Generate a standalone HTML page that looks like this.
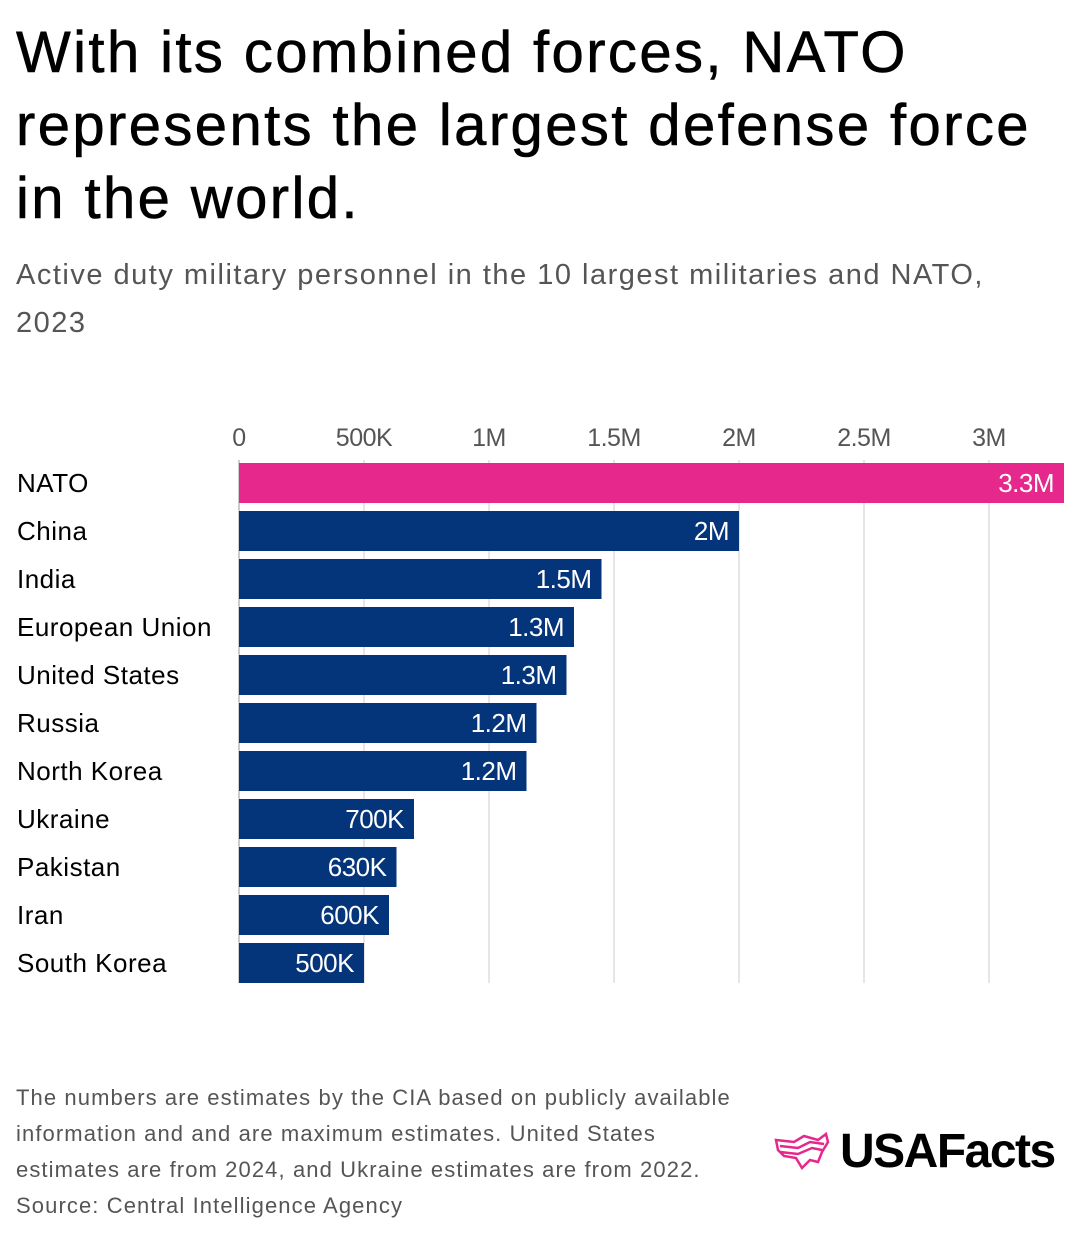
<!DOCTYPE html>
<html><head><meta charset="utf-8"><style>
body{margin:0;width:1080px;height:1238px;background:#fff;font-family:"Liberation Sans",sans-serif;position:relative;overflow:hidden}
.t{position:absolute;left:16px;top:16px;font-size:58px;font-weight:normal;line-height:73px;color:#000;margin:0;letter-spacing:2.4px;white-space:nowrap;-webkit-text-stroke:0.6px #000}
.s{position:absolute;left:16px;top:251px;font-size:29px;line-height:48px;color:#555;white-space:nowrap;letter-spacing:1.5px}
.n{position:absolute;left:16px;top:1080px;font-size:22px;line-height:36px;color:#555;white-space:nowrap;letter-spacing:1.1px}
.logo{position:absolute;left:774px;top:1124px;display:flex;align-items:center}
.logo span{font-size:48px;font-weight:bold;color:#000;margin-left:10px;letter-spacing:-1.5px}
</style></head><body>
<h1 class="t">With its combined forces, NATO<br>represents the largest defense force<br>in the world.</h1>
<div class="s">Active duty military personnel in the 10 largest militaries and NATO,<br>2023</div>
<svg id="c" width="1080" height="700" style="position:absolute;left:0;top:400px"></svg>
<div class="n">The numbers are estimates by the CIA based on publicly available<br>information and and are maximum estimates. United States<br>estimates are from 2024, and Ukraine estimates are from 2022.<br>Source: Central Intelligence Agency</div>
<div class="logo">
<svg width="56" height="40" viewBox="0 0 56 40"><path d="M2 8 L20 10 L30 4 L44 8 L52 2 L54 10 L48 20 L44 30 L36 28 L28 36 L22 26 L10 24 L4 18 Z M6 14 L24 16 L36 10 L50 12 M6 20 L24 22 L38 16 L48 18" fill="none" stroke="#e6278c" stroke-width="2.5"/></svg>
<span>USAFacts</span></div>
<script>
const categories=["NATO","China","India","European Union","United States","Russia","North Korea","Ukraine","Pakistan","Iran","South Korea"];
const values=[3.3,2.0,1.45,1.34,1.31,1.19,1.15,0.7,0.63,0.6,0.5];
const valueLabels=["3.3M","2M","1.5M","1.3M","1.3M","1.2M","1.2M","700K","630K","600K","500K"];
const ticks=[0,0.5,1,1.5,2,2.5,3];
const tickLabels=["0","500K","1M","1.5M","2M","2.5M","3M"];
const svg=document.getElementById('c'),NS="http://www.w3.org/2000/svg";
const x=v=>239+v*250, y=i=>63+i*48;
function mk(t,a,txt){const e=document.createElementNS(NS,t);for(const k in a)e.setAttribute(k,a[k]);if(txt!=null)e.textContent=txt;svg.appendChild(e);return e;}
ticks.forEach((t,i)=>{
const g=mk('line',{x1:x(t),x2:x(t),y1:60,y2:583,stroke:i?'#ddd':'#bbb','stroke-width':1.5});


const l=mk('text',{x:x(t),y:46,'text-anchor':'middle','font-size':25,fill:'#555','letter-spacing':'-0.5'},tickLabels[i]);


});
categories.forEach((c,i)=>{
const b=mk('rect',{x:x(0),y:y(i),width:x(values[i])-x(0),height:40,fill:i?'#04347a':'#e6278c'});


const l=mk('text',{x:17,y:y(i)+29,'font-size':26,fill:'#000','letter-spacing':'0.5'},c);


const v=mk('text',{x:x(values[i])-10,y:y(i)+29,'text-anchor':'end','font-size':26,fill:'#fff','letter-spacing':'-0.5'},valueLabels[i]);


});
</script>
</body></html>
